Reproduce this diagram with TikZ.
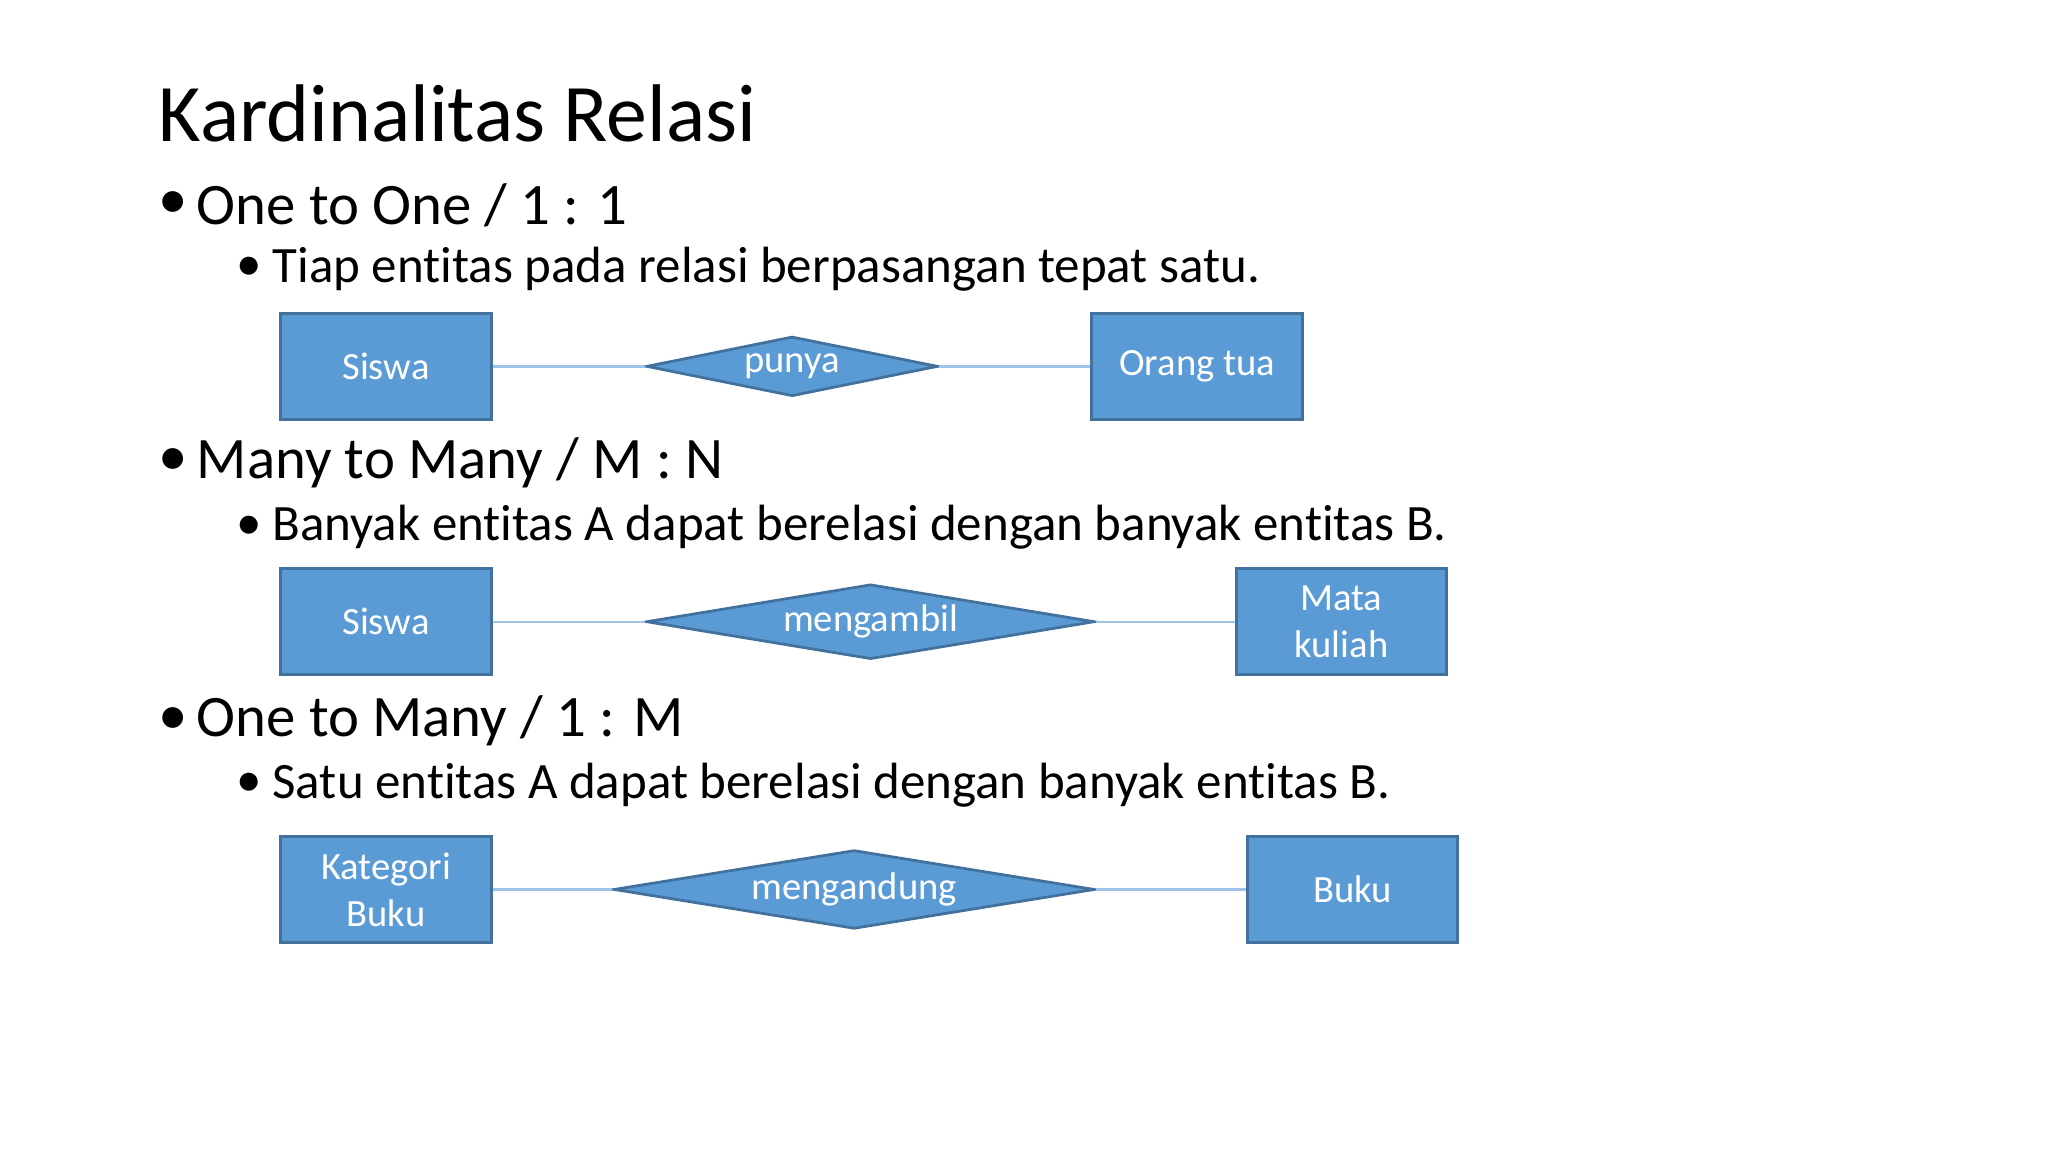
\documentclass[tikz,border=0pt]{standalone}
\usepackage{fontspec}
\setmainfont{Carlito}[Ligatures=NoCommon]
\usetikzlibrary{shapes.geometric}
\definecolor{boxfill}{HTML}{5B9BD5}
\definecolor{boxline}{HTML}{41719C}
\definecolor{conn}{HTML}{9DC3E6}
\tikzset{
 ent/.style={draw=boxline, fill=boxfill, line width=0.6pt, minimum width=1.61cm, minimum height=0.81cm, inner sep=0pt, text=white, font=\fontsize{8.4}{10.2}\selectfont, align=center},
 rel/.style={diamond, draw=boxline, fill=boxfill, line width=0.6pt, inner sep=0pt, text=white, font=\fontsize{8.4}{10}\selectfont},
 con/.style={draw=conn, line width=0.5pt},
 lone/.style={anchor=west, inner sep=0pt, font=\fontsize{12.8}{15}\selectfont},
 ltwo/.style={anchor=west, inner sep=0pt, font=\fontsize{11.1}{13}\selectfont},
}
\begin{document}
\begin{tikzpicture}[x=0.01cm,y=-0.01cm]
\useasboundingbox (0,0) rectangle (1568,882);
\node[anchor=west, inner sep=0pt, font=\fontsize{17.8}{21}\selectfont] (title) at (121,87) {Kardinalitas Relasi};
\node[lone] (d1) at (121,157) {•}; \node[lone] (b1) at (150,157) {One to One / 1 : 1};
\node[ltwo] (t1) at (180,206) {•}; \node[ltwo] (s1) at (208,206) {Tiap entitas pada relasi berpasangan tepat satu.};
\node[ent] (e1a) at (295.5,280.5) {Siswa};
\node[rel, minimum width=2.23cm, shape aspect=2.75] (r1) at (606.5,280.5) {punya};
\node[ent] (e1b) at (916.5,280.5) {Orang tua};
\draw[con] (e1a) -- (r1); \draw[con] (r1) -- (e1b);
\node[lone] (d2) at (121,354) {•}; \node[lone] (b2) at (150,354) {Many to Many / M : N};
\node[ltwo] (t2) at (180,404) {•}; \node[ltwo] (s2) at (208,404) {Banyak entitas A dapat berelasi dengan banyak entitas B.};
\node[ent] (e2a) at (295.5,476) {Siswa};
\node[rel, minimum width=3.43cm, shape aspect=4.23] (r2) at (666.5,476) {mengambil};
\node[ent] (e2b) at (1027,476) {Mata\\kuliah};
\draw[con] (e2a) -- (r2); \draw[con] (r2) -- (e2b);
\node[lone] (d3) at (121,552) {•}; \node[lone] (b3) at (150,552) {One to Many / 1 : M};
\node[ltwo] (t3) at (180,601) {•}; \node[ltwo] (s3) at (208,601) {Satu entitas A dapat berelasi dengan banyak entitas B.};
\node[ent] (e3a) at (295.5,681) {Kategori\\Buku};
\node[rel, minimum width=3.68cm, shape aspect=4.54] (r3) at (654,681) {mengandung};
\node[ent] (e3b) at (1035.5,681) {Buku};
\draw[con] (e3a) -- (r3); \draw[con] (r3) -- (e3b);
\end{tikzpicture}
\end{document}
